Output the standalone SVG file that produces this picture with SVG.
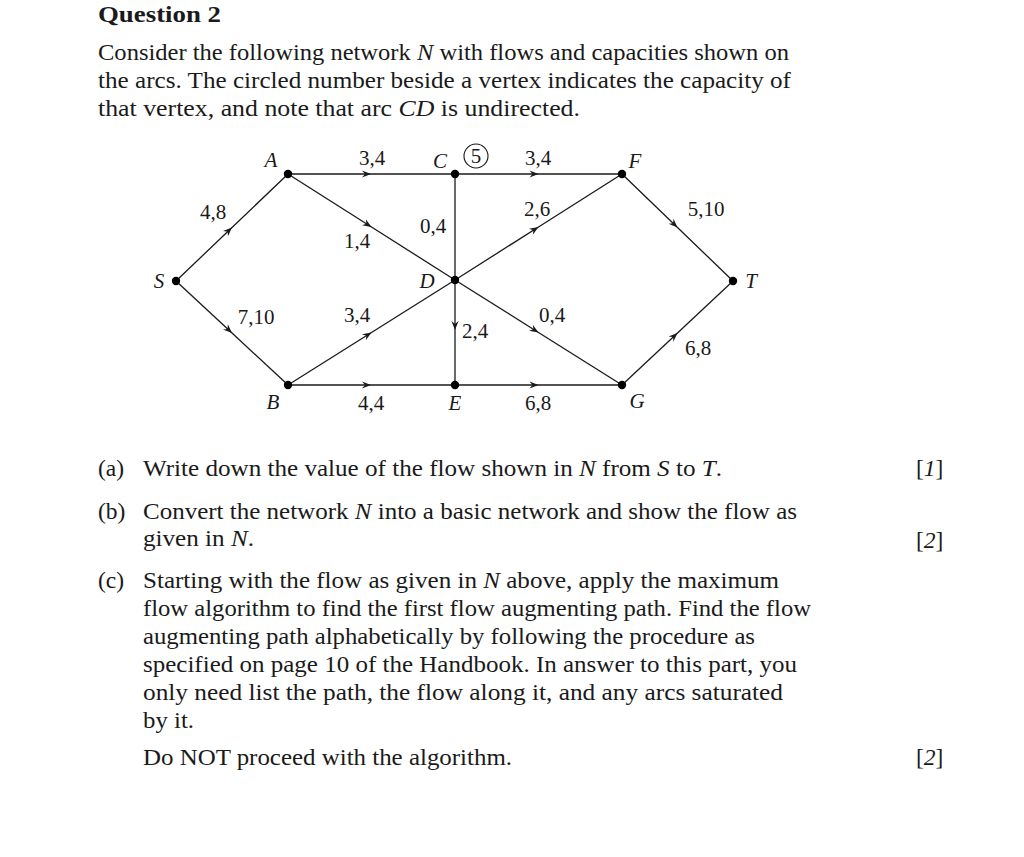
<svg xmlns="http://www.w3.org/2000/svg" width="1024" height="857" viewBox="0 0 1024 857">
<style>
.t{font-family:"Liberation Serif","DejaVu Serif",serif;font-size:23.5px;fill:#1a1a1a}
.b{font-weight:bold}
.i{font-style:italic}
.lbl{font-family:"Liberation Serif","DejaVu Serif",serif;font-size:21px;fill:#1a1a1a;text-anchor:middle}
.nl{font-family:"Liberation Serif","DejaVu Serif",serif;font-size:21px;font-style:italic;fill:#1a1a1a;text-anchor:middle}
.e{fill:none;stroke:#1a1a1a;stroke-width:1.3}
.a{marker-mid:url(#arr)}
.dot{fill:#000}
</style>
<defs>
<marker id="arr" markerUnits="userSpaceOnUse" markerWidth="12" markerHeight="10" viewBox="-10 -5 11 10" refX="0" refY="0" orient="auto">
<path d="M-9,-3.6 L0,0 L-9,3.6 L-6,0 Z" fill="#1a1a1a"/>
</marker>
</defs>
<rect width="1024" height="857" fill="#fff"/>

<g id="text">
<text class="t b" x="98" y="22" textLength="123" lengthAdjust="spacingAndGlyphs">Question 2</text>
<text class="t" x="98" y="60" textLength="691" lengthAdjust="spacingAndGlyphs">Consider the following network <tspan class="i">N</tspan> with flows and capacities shown on</text>
<text class="t" x="98" y="88" textLength="693" lengthAdjust="spacingAndGlyphs">the arcs. The circled number beside a vertex indicates the capacity of</text>
<text class="t" x="98" y="116" textLength="482" lengthAdjust="spacingAndGlyphs">that vertex, and note that arc <tspan class="i">CD</tspan> is undirected.</text>

<text class="t" x="98" y="476">(a)</text>
<text class="t" x="143" y="476" textLength="579" lengthAdjust="spacingAndGlyphs">Write down the value of the flow shown in <tspan class="i">N</tspan> from <tspan class="i">S</tspan> to <tspan class="i">T</tspan>.</text>
<text class="t" x="916" y="476">[<tspan class="i">1</tspan>]</text>

<text class="t" x="98" y="519">(b)</text>
<text class="t" x="143" y="519" textLength="654" lengthAdjust="spacingAndGlyphs">Convert the network <tspan class="i">N</tspan> into a basic network and show the flow as</text>
<text class="t" x="143" y="546" textLength="111" lengthAdjust="spacingAndGlyphs">given in <tspan class="i">N</tspan>.</text>
<text class="t" x="916" y="548">[<tspan class="i">2</tspan>]</text>

<text class="t" x="98" y="588">(c)</text>
<text class="t" x="143" y="588" textLength="636" lengthAdjust="spacingAndGlyphs">Starting with the flow as given in <tspan class="i">N</tspan> above, apply the maximum</text>
<text class="t" x="143" y="616" textLength="668" lengthAdjust="spacingAndGlyphs">flow algorithm to find the first flow augmenting path. Find the flow</text>
<text class="t" x="143" y="644" textLength="612" lengthAdjust="spacingAndGlyphs">augmenting path alphabetically by following the procedure as</text>
<text class="t" x="143" y="672" textLength="654" lengthAdjust="spacingAndGlyphs">specified on page 10 of the Handbook. In answer to this part, you</text>
<text class="t" x="143" y="700" textLength="640" lengthAdjust="spacingAndGlyphs">only need list the path, the flow along it, and any arcs saturated</text>
<text class="t" x="143" y="728" textLength="51" lengthAdjust="spacingAndGlyphs">by it.</text>
<text class="t" x="143" y="765" textLength="369" lengthAdjust="spacingAndGlyphs">Do NOT proceed with the algorithm.</text>
<text class="t" x="916" y="765">[<tspan class="i">2</tspan>]</text>
</g>

<g id="connectors">
<path id="SA" class="e a" d="M176,281 L232,227.5 L288,174"/>
<path id="SB" class="e a" d="M176,281 L232,333 L288,385"/>
<path id="AC" class="e a" d="M288,174 L371,174 L455,174"/>
<path id="AD" class="e a" d="M288,174 L371.5,227 L455,280"/>
<path id="CD" class="e" d="M455,174 L455,280"/>
<path id="CF" class="e a" d="M455,174 L538.5,174 L622,174"/>
<path id="DF" class="e a" d="M455,280 L538.5,227 L622,174"/>
<path id="FT" class="e a" d="M622,174 L677.5,227.5 L733,281"/>
<path id="BD" class="e a" d="M288,385 L371.5,332.5 L455,280"/>
<path id="BE" class="e a" d="M288,385 L371,385 L455,385"/>
<path id="DE" class="e a" d="M455,280 L455,330 L455,385"/>
<path id="DG" class="e a" d="M455,280 L538.5,332.5 L622,385"/>
<path id="EG" class="e a" d="M455,385 L538.5,385 L622,385"/>
<path id="GT" class="e a" d="M622,385 L677.5,333 L733,281"/>
</g>

<g id="edge-labels">
<text class="lbl" x="372" y="165">3,4</text>
<text class="lbl" x="538" y="165">3,4</text>
<text class="lbl" x="213" y="219">4,8</text>
<text class="lbl" x="357" y="248">1,4</text>
<text class="lbl" x="433" y="233">0,4</text>
<text class="lbl" x="537" y="216">2,6</text>
<text class="lbl" x="706" y="216">5,10</text>
<text class="lbl" x="256" y="324">7,10</text>
<text class="lbl" x="357" y="322">3,4</text>
<text class="lbl" x="475" y="338">2,4</text>
<text class="lbl" x="552" y="322">0,4</text>
<text class="lbl" x="698" y="355">6,8</text>
<text class="lbl" x="371" y="410">4,4</text>
<text class="lbl" x="538" y="410">6,8</text>
</g>

<g id="node-S"><circle class="dot" cx="176" cy="281" r="4.2"/><text class="nl" x="159" y="288">S</text></g>
<g id="node-A"><circle class="dot" cx="288" cy="174" r="4.2"/><text class="nl" x="271" y="167">A</text></g>
<g id="node-C"><circle class="dot" cx="455" cy="174" r="4.2"/><text class="nl" x="440" y="168">C</text>
<circle cx="476" cy="156" r="12" fill="none" stroke="#1a1a1a" stroke-width="1.1"/><text class="lbl" x="476" y="163">5</text></g>
<g id="node-F"><circle class="dot" cx="622" cy="174" r="4.2"/><text class="nl" x="635" y="168">F</text></g>
<g id="node-D"><circle class="dot" cx="455" cy="280" r="4.2"/><text class="nl" x="427" y="288">D</text></g>
<g id="node-T"><circle class="dot" cx="733" cy="281" r="4.2"/><text class="nl" x="751" y="288">T</text></g>
<g id="node-B"><circle class="dot" cx="288" cy="385" r="4.2"/><text class="nl" x="273" y="409">B</text></g>
<g id="node-E"><circle class="dot" cx="455" cy="385" r="4.2"/><text class="nl" x="455" y="410">E</text></g>
<g id="node-G"><circle class="dot" cx="622" cy="385" r="4.2"/><text class="nl" x="637" y="408">G</text></g>
</svg>
